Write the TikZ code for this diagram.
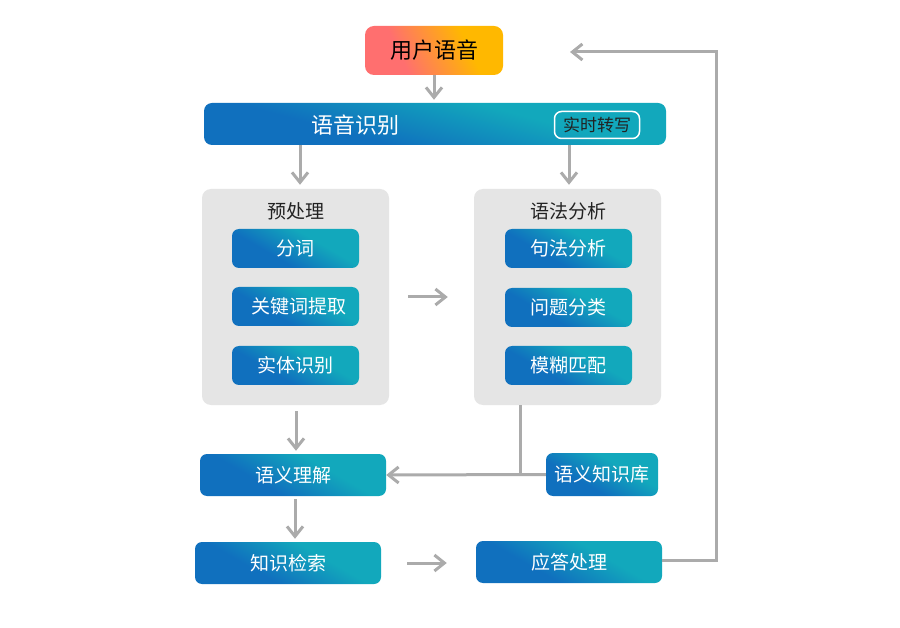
\documentclass[tikz,border=0pt]{standalone}
\usepackage{fontspec}
\newfontfamily\cjk{Noto Sans CJK SC}
\usetikzlibrary{arrows.meta,calc}
\definecolor{bA}{HTML}{1070BE}
\definecolor{bB}{HTML}{12A8BC}
\definecolor{oA}{HTML}{FF6F6F}
\definecolor{oB}{HTML}{FFB800}
\definecolor{gline}{HTML}{ABABAB}
\definecolor{gbox}{HTML}{E5E5E5}
\definecolor{tdark}{HTML}{222222}
\pgfdeclarehorizontalshading{bluegrad}{100bp}{color(0bp)=(bA); color(38bp)=(bA); color(62bp)=(bB); color(100bp)=(bB)}
\pgfdeclarehorizontalshading{orangegrad}{100bp}{color(0bp)=(oA); color(35bp)=(oA); color(65bp)=(oB); color(100bp)=(oB)}
\tikzset{
  blk/.style={rounded corners=7pt, shading=bluegrad, shading angle=60, text=white,
    font=\cjk\fontsize{19}{20}\selectfont, inner sep=0pt},
  grp/.style={rounded corners=9pt, fill=gbox, inner sep=0pt},
  ttl/.style={text=tdark, font=\cjk\fontsize{19}{20}\selectfont, inner sep=0pt},
  ln/.style={draw=gline, line width=3pt},
  arr/.style={ln, -{Straight Barb[length=10pt,width=16pt,line width=3pt]}},
}
\begin{document}
\begin{tikzpicture}[x=1pt,y=-1pt]
\useasboundingbox[fill=white] (0,0) rectangle (900,628);
% top
\node[rounded corners=9pt, shading=orangegrad, shading angle=25, inner sep=0pt,
  minimum width=138pt, minimum height=49pt, font=\cjk\fontsize{22}{24}\selectfont, text=black]
  (yh) at (434,50.5) {用户语音};
\node[rounded corners=8pt, shading=bluegrad, shading angle=75, inner sep=0pt,
  minimum width=462pt, minimum height=42pt] (asr) at (435,124) {};
\node[text=white, font=\cjk\fontsize{22}{24}\selectfont, inner sep=0pt] (asrt) at (355,125) {语音识别};
\node[draw=white, line width=1.5pt, rounded corners=7pt, inner sep=0pt,
  minimum width=85pt, minimum height=27pt, text=tdark, font=\cjk\fontsize{17}{18}\selectfont]
  (rt) at (597,125) {实时转写};
% group boxes
\node[grp, minimum width=187pt, minimum height=216pt] (pre) at (295.5,297) {};
\node[ttl] (pret) at (295.5,211) {预处理};
\node[grp, minimum width=187pt, minimum height=216pt] (syn) at (567.5,297) {};
\node[ttl] (synt) at (568,211) {语法分析};
\node[blk, minimum width=127pt, minimum height=39pt] (fc) at (295.5,248.5) {分词};
\node[blk, minimum width=127pt, minimum height=39pt] (gj) at (295.5,306.5) {\hspace{6pt}关键词提取};
\node[blk, minimum width=127pt, minimum height=39pt] (st) at (295.5,365.5) {实体识别};
\node[blk, minimum width=127pt, minimum height=39pt] (jf) at (568.5,248.5) {句法分析};
\node[blk, minimum width=127pt, minimum height=39pt] (wt) at (568.5,307.5) {问题分类};
\node[blk, minimum width=127pt, minimum height=39pt] (mh) at (568.5,365.5) {模糊匹配};
% lower nodes
\node[blk, minimum width=186pt, minimum height=42pt] (lj) at (293,475) {语义理解};
\node[blk, minimum width=112pt, minimum height=43pt] (kb) at (602,474.5) {语义知识库};
\node[blk, minimum width=186pt, minimum height=42pt] (zs) at (288,563) {知识检索};
\node[blk, minimum width=186pt, minimum height=42pt] (yd) at (569,562) {应答处理};
% connectors
\draw[arr, shorten >=3pt] (yh.south) -- (asr.north -| yh.south);
\coordinate (a1) at (300,145);
\coordinate (a2) at (569,145);
\draw[arr, shorten >=4pt] (a1) -- (pre.north -| a1);
\draw[arr, shorten >=4pt] (a2) -- (syn.north -| a2);
\draw[arr, shorten <=19pt, shorten >=26pt] (pre.east) -- (syn.west);
\coordinate (a3) at (296,405);
\draw[arr, shorten <=6pt, shorten >=3pt] (a3) -- (lj.north -| a3);
\coordinate (j) at (520,474.5);
\draw[ln] (syn.south -| j) -- (j);
\draw[arr] (kb.west) -- (lj.east);
\coordinate (a4) at (295,496);
\draw[arr, shorten <=3pt, shorten >=3pt] (a4) -- (zs.north -| a4);
\draw[arr, shorten <=26pt, shorten >=29pt] (zs.east) -- (yd.west |- zs.east);
\coordinate (c0) at (662,560);
\coordinate (c1) at (716,52);
\coordinate (fb) at (570,52);
\draw[arr] (c0) -| (c1) -- (fb);
\end{tikzpicture}
\end{document}
